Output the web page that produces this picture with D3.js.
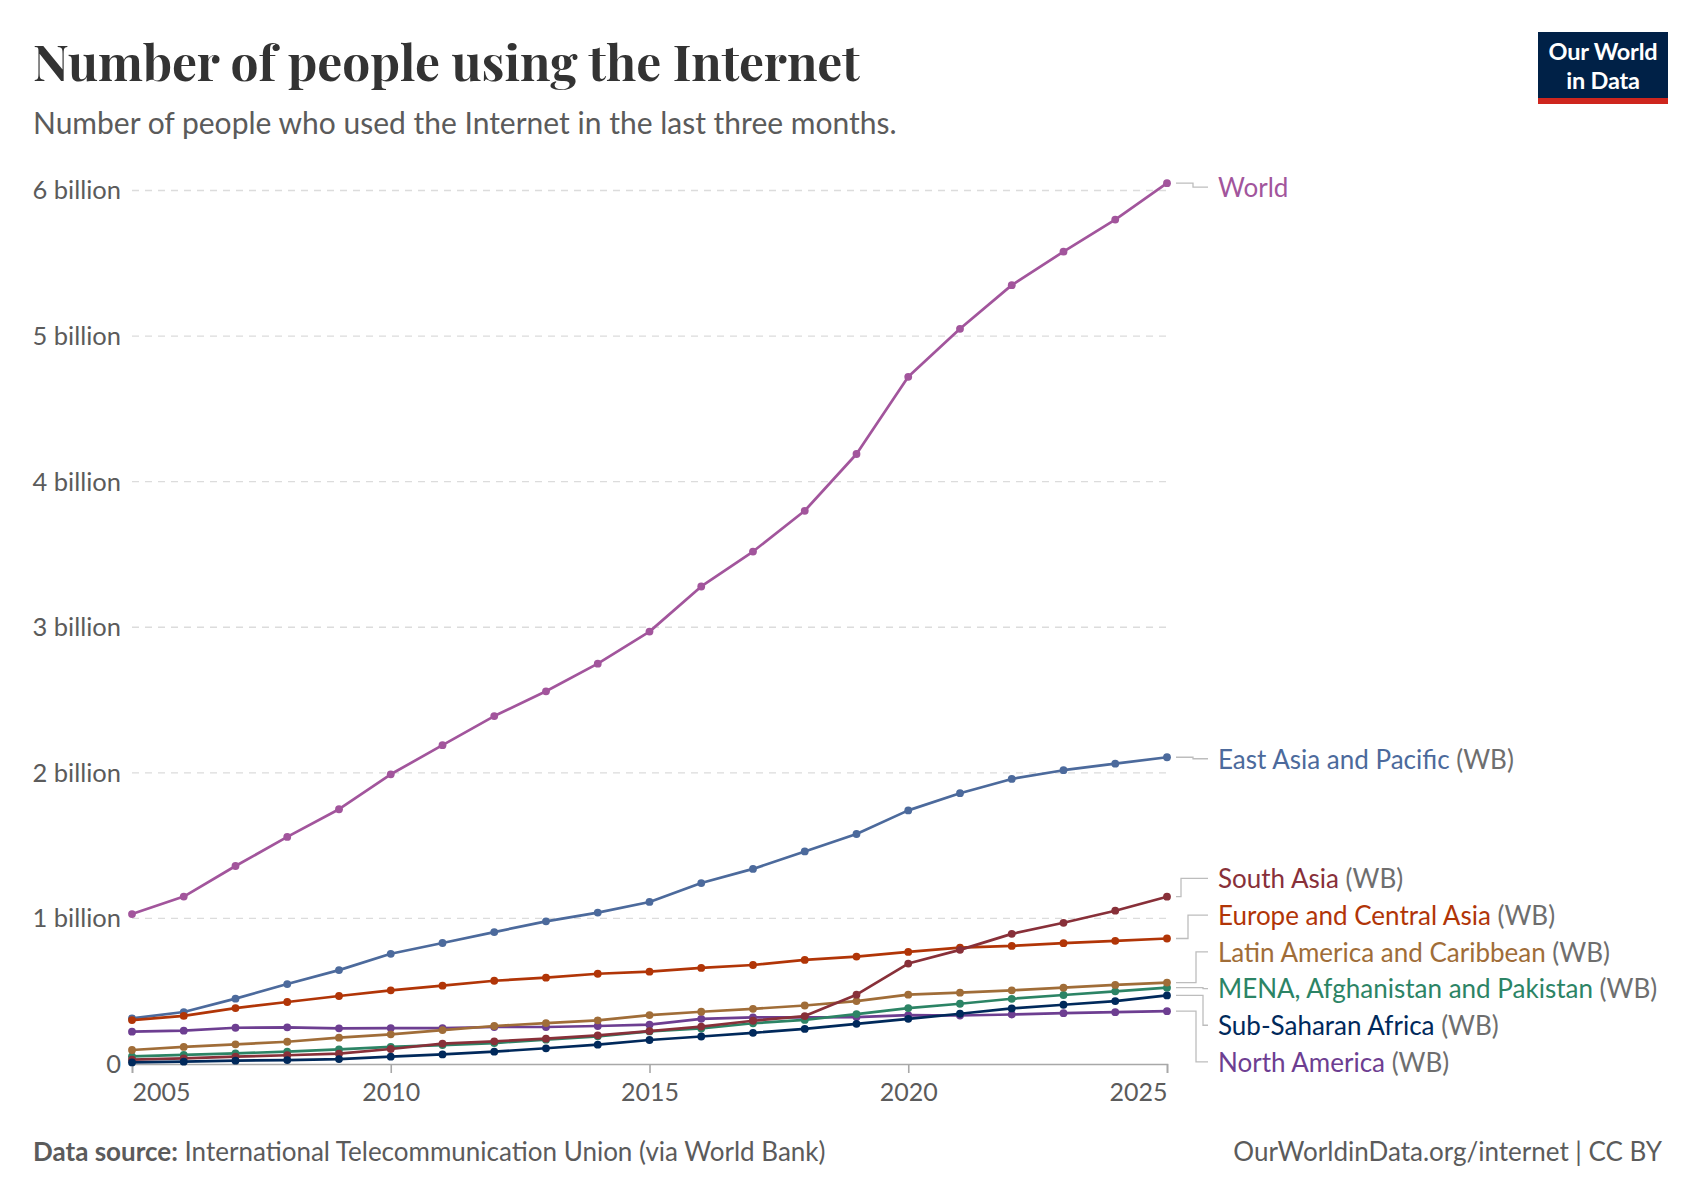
<!DOCTYPE html>
<html>
<head>
<meta charset="utf-8">
<script src="https://cdn.jsdelivr.net/npm/d3@7"></script>
<style>
  html, body { margin: 0; padding: 0; background: #fff; }
  svg { display: block; }
  text { font-family: Lato, "Noto Sans", sans-serif; }
</style>
</head>
<body>
<svg id="chart" width="1700" height="1200"></svg>
<script>
// ---------------- DATA ----------------
const years = [2005, 2006, 2007, 2008, 2009, 2010, 2011, 2012, 2013, 2014, 2015,
               2016, 2017, 2018, 2019, 2020, 2021, 2022, 2023, 2024, 2025];

// values in billions of people
const world        = [1.03, 1.15, 1.36, 1.56, 1.75, 1.99, 2.19, 2.39, 2.56, 2.75, 2.97,
                      3.28, 3.52, 3.80, 4.19, 4.72, 5.05, 5.35, 5.58, 5.80, 6.05];
const eastAsia     = [0.313, 0.357, 0.449, 0.549, 0.645, 0.757, 0.831, 0.906, 0.980, 1.040, 1.113,
                      1.243, 1.340, 1.460, 1.580, 1.742, 1.860, 1.958, 2.018, 2.063, 2.107];
const southAsia    = [0.030, 0.039, 0.050, 0.060, 0.071, 0.103, 0.140, 0.156, 0.174, 0.197, 0.226,
                      0.257, 0.297, 0.329, 0.476, 0.690, 0.784, 0.894, 0.970, 1.053, 1.149];
const europe       = [0.302, 0.330, 0.384, 0.426, 0.467, 0.506, 0.538, 0.572, 0.593, 0.620, 0.634,
                      0.660, 0.680, 0.715, 0.738, 0.770, 0.800, 0.811, 0.830, 0.846, 0.862];
const latinAmerica = [0.096, 0.117, 0.135, 0.153, 0.181, 0.204, 0.233, 0.261, 0.281, 0.300, 0.336,
                      0.359, 0.379, 0.402, 0.432, 0.476, 0.490, 0.506, 0.524, 0.543, 0.559];
const mena         = [0.053, 0.062, 0.073, 0.085, 0.100, 0.117, 0.130, 0.144, 0.167, 0.190, 0.224,
                      0.244, 0.280, 0.303, 0.343, 0.384, 0.414, 0.448, 0.474, 0.499, 0.524];
const subSaharan   = [0.011, 0.016, 0.023, 0.027, 0.034, 0.050, 0.066, 0.085, 0.108, 0.133, 0.165,
                      0.189, 0.214, 0.241, 0.276, 0.310, 0.345, 0.382, 0.407, 0.432, 0.471];
const northAmerica = [0.222, 0.229, 0.249, 0.252, 0.245, 0.247, 0.247, 0.254, 0.254, 0.261, 0.270,
                      0.310, 0.320, 0.320, 0.322, 0.336, 0.333, 0.340, 0.349, 0.356, 0.363];

const seriesNames  = ["World", "East Asia and Pacific", "North America", "MENA, Afghanistan and Pakistan",
                      "Latin America and Caribbean", "Europe and Central Asia", "South Asia", "Sub-Saharan Africa"];
const seriesSuffix = ["", " (WB)", " (WB)", " (WB)", " (WB)", " (WB)", " (WB)", " (WB)"];
const seriesValues = [world, eastAsia, northAmerica, mena, latinAmerica, europe, southAsia, subSaharan];
const seriesColors = ["#a2559c", "#4c6a9c", "#6d3e91", "#2c8465", "#a06d38", "#b13507", "#883039", "#00295b"];
// connector styling: elbow x and small label nudge
const elbowX       = [1193, 1193, 1196, 1203, 1196, 1188, 1181, 1203];
const labelNudge   = [2.5, 0, 0, 0, 0, 0, 0, 0];

const yTickValues  = [0, 1, 2, 3, 4, 5, 6];
const yTickLabels  = ["0", "1 billion", "2 billion", "3 billion", "4 billion", "5 billion", "6 billion"];
const xTickValues  = [2005, 2010, 2015, 2020, 2025];

const titleText    = "Number of people using the Internet";
const subtitleText = "Number of people who used the Internet in the last three months.";
const sourceBold   = "Data source:";
const sourceText   = " International Telecommunication Union (via World Bank)";
const creditText   = "OurWorldinData.org/internet | CC BY";
const logoLines    = ["Our World", "in Data"];

// ---------------- LAYOUT ----------------
const svg = d3.select("#chart");
const plotLeft = 132, plotRight = 1167, plotTop = 190.5, plotBottom = 1064;

const x = d3.scaleLinear().domain([2005, 2025]).range([plotLeft, plotRight]);
const y = d3.scaleLinear().domain([0, 6]).range([plotBottom, plotTop]);

svg.append("rect").attr("width", 1700).attr("height", 1200).attr("fill", "#fff");

// Title & subtitle
svg.append("text").attr("x", 33).attr("y", 81)
  .style("font-family", "'Playfair Display', 'Liberation Serif', 'DejaVu Serif', serif")
  .style("font-weight", 700).style("font-size", "49.6px").attr("fill", "#333")
  .text(titleText);
svg.append("text").attr("x", 33).attr("y", 134)
  .style("font-size", "30px").attr("fill", "#5b5b5b")
  .text(subtitleText);

// Logo
const logo = svg.append("g");
logo.append("rect").attr("x", 1538).attr("y", 32).attr("width", 130).attr("height", 72).attr("fill", "#002147");
logo.append("rect").attr("x", 1538).attr("y", 98).attr("width", 130).attr("height", 6).attr("fill", "#ce261e");
logoLines.forEach((ln, i) => {
  logo.append("text").attr("x", 1603).attr("y", 60.3 + i * 28.4).attr("text-anchor", "middle").attr("fill", "#fff")
    .style("font-weight", 700).style("font-size", "23.5px").style("letter-spacing", "-0.2px").text(ln);
});

// Gridlines
svg.append("g").selectAll("line").data(yTickValues.filter(v => v > 0)).join("line")
  .attr("x1", plotLeft).attr("x2", plotRight)
  .attr("y1", d => y(d)).attr("y2", d => y(d))
  .attr("stroke", "#dcdcdc").attr("stroke-width", 1.4).attr("stroke-dasharray", "7,6");

// Y labels
svg.append("g").selectAll("text").data(yTickValues).join("text")
  .attr("x", 121).attr("y", d => y(d)).attr("dy", "0.35em")
  .attr("text-anchor", "end").style("font-size", "25.5px").attr("fill", "#5b5b5b")
  .text((d, i) => yTickLabels[i]);

// X axis
const xAxisG = svg.append("g").attr("transform", `translate(0,${plotBottom})`)
  .call(d3.axisBottom(x).tickValues(xTickValues).tickFormat(d3.format("d")).tickSize(9).tickPadding(10));
xAxisG.select(".domain").attr("stroke", "#a8a8a8").attr("stroke-width", 1.6);
xAxisG.selectAll(".tick line").attr("stroke", "#a8a8a8").attr("stroke-width", 1.6);
xAxisG.selectAll(".tick text").style("font-family", "Lato, sans-serif").style("font-size", "25px").attr("fill", "#5b5b5b");
xAxisG.selectAll(".tick text").filter(d => d === xTickValues[0]).attr("text-anchor", "start");
xAxisG.selectAll(".tick text").filter(d => d === xTickValues[xTickValues.length - 1]).attr("text-anchor", "end");

// Lines and markers
const series = seriesNames.map((name, i) => ({
  name, suffix: seriesSuffix[i], color: seriesColors[i], elbow: elbowX[i], nudge: labelNudge[i],
  points: years.map((yr, j) => ({ year: yr, value: seriesValues[i][j] }))
}));
const line = d3.line().x(d => x(d.year)).y(d => y(d.value));
const lineG = svg.append("g");
series.forEach(s => {
  const g = lineG.append("g");
  g.append("path").datum(s.points).attr("d", line)
    .attr("fill", "none").attr("stroke", s.color).attr("stroke-width", 2.7).attr("stroke-linejoin", "round");
  g.selectAll("circle").data(s.points).join("circle")
    .attr("cx", d => x(d.year)).attr("cy", d => y(d.value)).attr("r", 3.9).attr("fill", s.color);
});

// Label placement (avoid overlaps)
const spacing = 36.7;
const labels = series.map(s => ({ s, target: y(s.points[s.points.length - 1].value) }))
  .sort((a, b) => a.target - b.target);
let blocks = labels.map(l => ({ items: [l], mean: l.target }));
function blockTop(b) { return b.mean - (b.items.length - 1) * spacing / 2; }
let merged = true;
while (merged) {
  merged = false;
  for (let i = 0; i < blocks.length - 1; i++) {
    const a = blocks[i], b = blocks[i + 1];
    const aBottom = blockTop(a) + (a.items.length - 1) * spacing;
    if (blockTop(b) - aBottom < spacing) {
      const items = a.items.concat(b.items);
      blocks.splice(i, 2, { items, mean: d3.mean(items, d => d.target) });
      merged = true; break;
    }
  }
}
blocks.forEach(b => b.items.forEach((l, k) => { l.ly = blockTop(b) + k * spacing + l.s.nudge + 1.5; }));

const labelX = 1218;
const lblG = svg.append("g");
labels.forEach(l => {
  const endX = x(years[years.length - 1]) + 9;
  const ex = l.s.elbow;
  lblG.append("path")
    .attr("d", `M${endX},${l.target}H${ex}V${l.ly}H${labelX - 10}`)
    .attr("fill", "none").attr("stroke", "#bdbdbd").attr("stroke-width", 1.3);
  const t = lblG.append("text").attr("x", labelX).attr("y", l.ly).attr("dy", "0.38em")
    .style("font-size", "26px");
  t.append("tspan").attr("fill", l.s.color).text(l.s.name);
  if (l.s.suffix) t.append("tspan").attr("fill", "#6e6e6e").text(l.s.suffix);
});

// Footer
const src = svg.append("text").attr("x", 33).attr("y", 1161).style("font-size", "26px").attr("fill", "#5b5b5b");
src.append("tspan").style("font-weight", 700).text(sourceBold);
src.append("tspan").text(sourceText);
svg.append("text").attr("x", 1662).attr("y", 1161).attr("text-anchor", "end")
  .style("font-size", "26px").attr("fill", "#5b5b5b").text(creditText);
</script>
</body>
</html>
